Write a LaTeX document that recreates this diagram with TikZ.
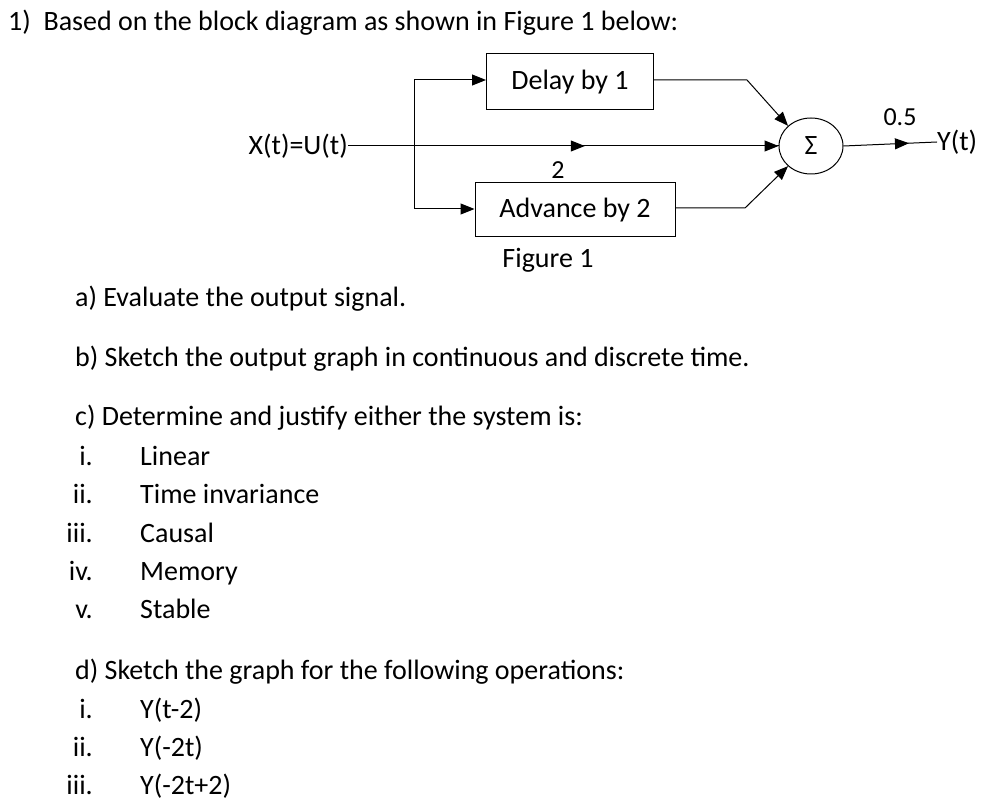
\documentclass[tikz,border=0pt]{standalone}
\usepackage{fontspec}
\setmainfont{Carlito}
\usetikzlibrary{arrows.meta,decorations.markings,shapes.geometric}
\begin{document}
\begin{tikzpicture}[x=1pt,y=-1pt,
  txt/.style={font=\fontsize{28}{32}\selectfont,inner sep=0pt,anchor=base west},
  num/.style={font=\fontsize{28}{32}\selectfont,inner sep=0pt,anchor=base east},
  blk/.style={draw,line width=1pt,minimum width=#1,minimum height=56pt,font=\fontsize{28}{32}\selectfont},
  arr/.style={line width=1pt,-{Triangle[length=14pt,width=11pt]}},
  ln/.style={line width=1pt},
  mid/.style={postaction={decorate},decoration={markings,mark=at position #1 with {\arrow{Triangle[length=14pt,width=11pt]}}}}]
\useasboundingbox (0,0) rectangle (992,802);
\node[txt] (title) at (8,31) {1)\ \ Based on the block diagram as shown in Figure 1 below:};
\node[blk=167pt] (delay) at (570,82) {Delay by 1};
\node[blk=200pt,minimum height=54pt] (adv) at (575,210) {Advance by 2};
\node[draw,ellipse,line width=1pt,minimum width=64pt,minimum height=56pt,inner sep=0pt,font=\fontsize{28}{32}\selectfont] (sum) at (811,146) {\symbol{"03A3}};
\node[font=\fontsize{28}{32}\selectfont,inner sep=0pt,anchor=east] (x) at (348,146) {X(t)=U(t)};
\node[font=\fontsize{28}{32}\selectfont,inner sep=0pt,anchor=west] (y) at (937,142) {Y(t)};
\node[font=\fontsize{26}{30}\selectfont] (two) at (558,170) {2};
\node[font=\fontsize{26}{30}\selectfont] (half) at (900,117) {0.5};
\node[font=\fontsize{28}{32}\selectfont] (fig) at (548,260) {Figure 1};
\draw[ln,mid=0.55] (x.east) -- (sum.west) ;
\draw[arr] (x.east) -- (sum.west);
\draw[arr] (414,146) |- (delay.west |- 0,80);
\draw[arr] (414,146) |- (adv.west |- 0,209);
\draw[arr] (delay.east |- 0,80) -- (747,80) -- (sum.north west);
\draw[arr] (adv.east |- 0,208) -- (745,208) -- (sum.south west);
\draw[ln,mid=0.7] (sum.east) -- (y.west);
\node[txt] (a) at (75,306) {a) Evaluate the output signal.};
\node[txt] (b) at (75,366) {b) Sketch the output graph in continuous and discrete time.};
\node[txt] (c) at (75,425) {c) Determine and justify either the system is:};
\node[num] (c1) at (93,465) {i.}; \node[txt] (c1t) at (140,465) {Linear};
\node[num] (c2) at (93,503) {ii.}; \node[txt] (c2t) at (140,503) {Time invariance};
\node[num] (c3) at (93,542) {iii.}; \node[txt] (c3t) at (140,542) {Causal};
\node[num] (c4) at (93,580) {iv.}; \node[txt] (c4t) at (140,580) {Memory};
\node[num] (c5) at (93,618) {v.}; \node[txt] (c5t) at (140,618) {Stable};
\node[txt] (d) at (75,679) {d) Sketch the graph for the following operations:};
\node[num] (d1) at (93,718) {i.}; \node[txt] (d1t) at (140,718) {Y(t-2)};
\node[num] (d2) at (93,756) {ii.}; \node[txt] (d2t) at (140,756) {Y(-2t)};
\node[num] (d3) at (93,794) {iii.}; \node[txt] (d3t) at (140,794) {Y(-2t+2)};
\end{tikzpicture}
\end{document}
